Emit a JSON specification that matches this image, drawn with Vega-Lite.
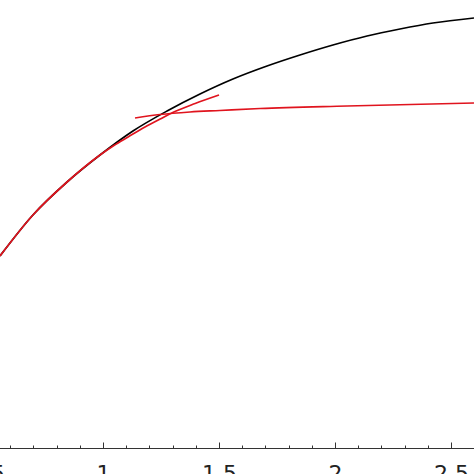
{
  "$schema": "https://vega.github.io/schema/vega-lite/v6.json",
  "width": 487,
  "height": 448,
  "autosize": "none",
  "padding": {"left": -13, "top": 0, "right": 0, "bottom": 26},
  "config": {"view": {"stroke": null}},
  "data": {
    "values": [
      {"s": "exact", "x": 0.556, "y": 1.92},
      {"s": "exact", "x": 0.698, "y": 2.33},
      {"s": "exact", "x": 0.845, "y": 2.66},
      {"s": "exact", "x": 0.987, "y": 2.93},
      {"s": "exact", "x": 1.129, "y": 3.17},
      {"s": "exact", "x": 1.276, "y": 3.37},
      {"s": "exact", "x": 1.418, "y": 3.54},
      {"s": "exact", "x": 1.560, "y": 3.69},
      {"s": "exact", "x": 1.707, "y": 3.82},
      {"s": "exact", "x": 1.849, "y": 3.93},
      {"s": "exact", "x": 1.991, "y": 4.03},
      {"s": "exact", "x": 2.138, "y": 4.12},
      {"s": "exact", "x": 2.280, "y": 4.19},
      {"s": "exact", "x": 2.422, "y": 4.25},
      {"s": "exact", "x": 2.599, "y": 4.30},
      {"s": "short", "x": 0.556, "y": 1.92},
      {"s": "short", "x": 0.698, "y": 2.33},
      {"s": "short", "x": 0.845, "y": 2.66},
      {"s": "short", "x": 0.987, "y": 2.93},
      {"s": "short", "x": 1.047, "y": 3.025},
      {"s": "short", "x": 1.108, "y": 3.11},
      {"s": "short", "x": 1.181, "y": 3.21},
      {"s": "short", "x": 1.246, "y": 3.29},
      {"s": "short", "x": 1.310, "y": 3.365},
      {"s": "short", "x": 1.397, "y": 3.445},
      {"s": "short", "x": 1.500, "y": 3.53},
      {"s": "long", "x": 1.138, "y": 3.30},
      {"s": "long", "x": 1.246, "y": 3.335},
      {"s": "long", "x": 1.375, "y": 3.36},
      {"s": "long", "x": 1.504, "y": 3.375},
      {"s": "long", "x": 1.677, "y": 3.395},
      {"s": "long", "x": 2.052, "y": 3.42},
      {"s": "long", "x": 2.599, "y": 3.45}
    ]
  },
  "mark": {"type": "line", "interpolate": "monotone", "clip": true, "strokeWidth": 1.7},
  "encoding": {
    "x": {
      "field": "x",
      "type": "quantitative",
      "scale": {"domain": [0.5, 2.599], "nice": false, "zero": false},
      "axis": {
        "title": null,
        "grid": false,
        "values": [0.5, 0.6, 0.7, 0.8, 0.9, 1, 1.1, 1.2, 1.3, 1.4, 1.5, 1.6, 1.7, 1.8, 1.9, 2, 2.1, 2.2, 2.3, 2.4, 2.5],
        "format": "~g",
        "labelExpr": "abs(datum.value * 2 - round(datum.value * 2)) < 0.01 ? datum.label : ''",
        "labelFlush": false,
        "labelOverlap": false,
        "labelFont": "DejaVu Sans",
        "labelFontSize": 22,
        "labelColor": "#222222",
        "labelPadding": 21,
        "labelBaseline": "top",
        "domainColor": "#333333",
        "domainWidth": 1,
        "tickColor": "#333333",
        "tickWidth": 1,
        "tickSize": {"condition": {"test": "abs(datum.value * 2 - round(datum.value * 2)) < 0.01", "value": -6}, "value": -3}
      }
    },
    "y": {
      "field": "y",
      "type": "quantitative",
      "scale": {"domain": [0, 4.48], "nice": false, "zero": false},
      "axis": null
    },
    "color": {
      "field": "s",
      "type": "nominal",
      "scale": {"domain": ["exact", "short", "long"], "range": ["#000000", "#e0141e", "#e0141e"]},
      "legend": null
    },
    "detail": {"field": "s"}
  }
}
